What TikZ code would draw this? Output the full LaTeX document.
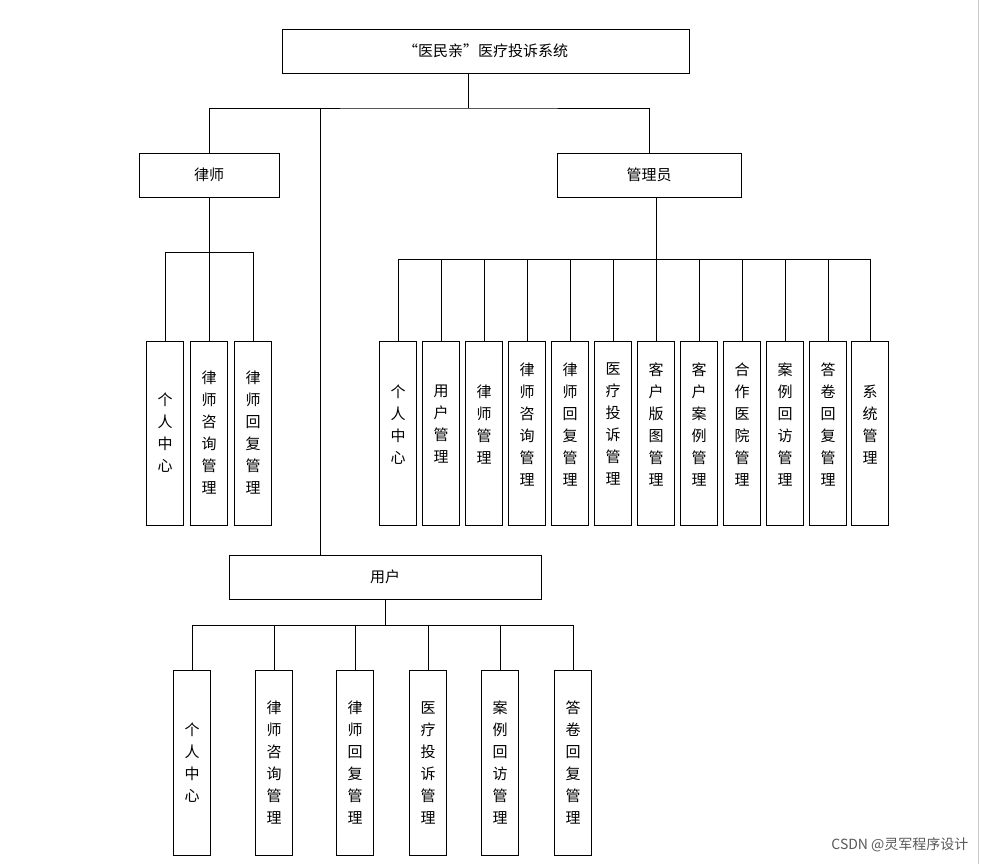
\documentclass[tikz,border=0pt]{standalone}
\usepackage{fontspec}
\setmainfont{Noto Sans CJK SC}
\begin{document}
\begin{tikzpicture}[x=1pt,y=-1pt,
  bx/.style={draw,line width=0.8pt,inner sep=0pt,font=\fontsize{15}{22}\selectfont,align=center},
  ln/.style={line width=0.8pt}]
\useasboundingbox[fill=white] (0,0) rectangle (986,864);
\draw[gray!40,line width=1pt] (978,0) -- (978,864);
\node[bx,minimum width=407,minimum height=44] (root) at (485.5,51) {“医民亲”医疗投诉系统};
\node[bx,minimum width=140,minimum height=44] (ls) at (209,175) {律师};
\node[bx,minimum width=184,minimum height=44] (gl) at (649,175) {管理员};
\node[bx,minimum width=312,minimum height=44] (yh) at (385,577) {用户};
\coordinate (r1) at (468,108);
\draw[ln] (root.south -| r1) -- (r1);
\draw[ln] (ls.north) |- (r1) -| (gl.north);
\coordinate (u1) at (320,108);
\draw[ln] (u1) -- (u1 |- yh.north);
% lawyer children
\coordinate (lh) at (209,252);
\draw[ln] (ls.south) -- (lh);
\foreach \x/\t [count=\i] in {165/个\\人\\中\\心,209/律\\师\\咨\\询\\管\\理,253/律\\师\\回\\复\\管\\理}{
  \node[bx,minimum width=37,minimum height=184] (lc\i) at (\x,433) {\t};
  \draw[ln] (lc\i.north) -- (\x,252);
}
\draw[ln] (lc1.north |- lh) -- (lc3.north |- lh);
% admin children
\coordinate (gh) at (656,259);
\draw[ln] (gh |- gl.south) -- (gh);
\foreach \x/\t [count=\i] in {398/个\\人\\中\\心,441/用\\户\\管\\理,484/律\\师\\管\\理,527/律\\师\\咨\\询\\管\\理,570/律\\师\\回\\复\\管\\理,613/医\\疗\\投\\诉\\管\\理,656/客\\户\\版\\图\\管\\理,699/客\\户\\案\\例\\管\\理,742/合\\作\\医\\院\\管\\理,785/案\\例\\回\\访\\管\\理,828/答\\卷\\回\\复\\管\\理,870/系\\统\\管\\理}{
  \node[bx,minimum width=37,minimum height=184,anchor=north] (gc\i) at (\x,341) {\t\\[-3pt]\phantom{}};
  \draw[ln] (gc\i.north) -- (\x,259);
}
\draw[ln] (gc1.north |- gh) -- (gc12.north |- gh);
% user children
\coordinate (uh) at (385,625);
\draw[ln] (yh.south) -- (uh);
\foreach \x/\t [count=\i] in {192/个\\人\\中\\心,274/律\\师\\咨\\询\\管\\理,355/律\\师\\回\\复\\管\\理,428/医\\疗\\投\\诉\\管\\理,500/案\\例\\回\\访\\管\\理,573/答\\卷\\回\\复\\管\\理}{
  \node[bx,minimum width=37,minimum height=185] (uc\i) at (\x,762.5) {\t};
  \draw[ln] (uc\i.north) -- (\x,625);
}
\draw[ln] (uc1.north |- uh) -- (uc6.north |- uh);
\node[text=gray!70!black,font=\fontsize{14}{16}\selectfont,anchor=east] (wm) at (972,845) {CSDN @灵军程序设计};
\end{tikzpicture}
\end{document}
